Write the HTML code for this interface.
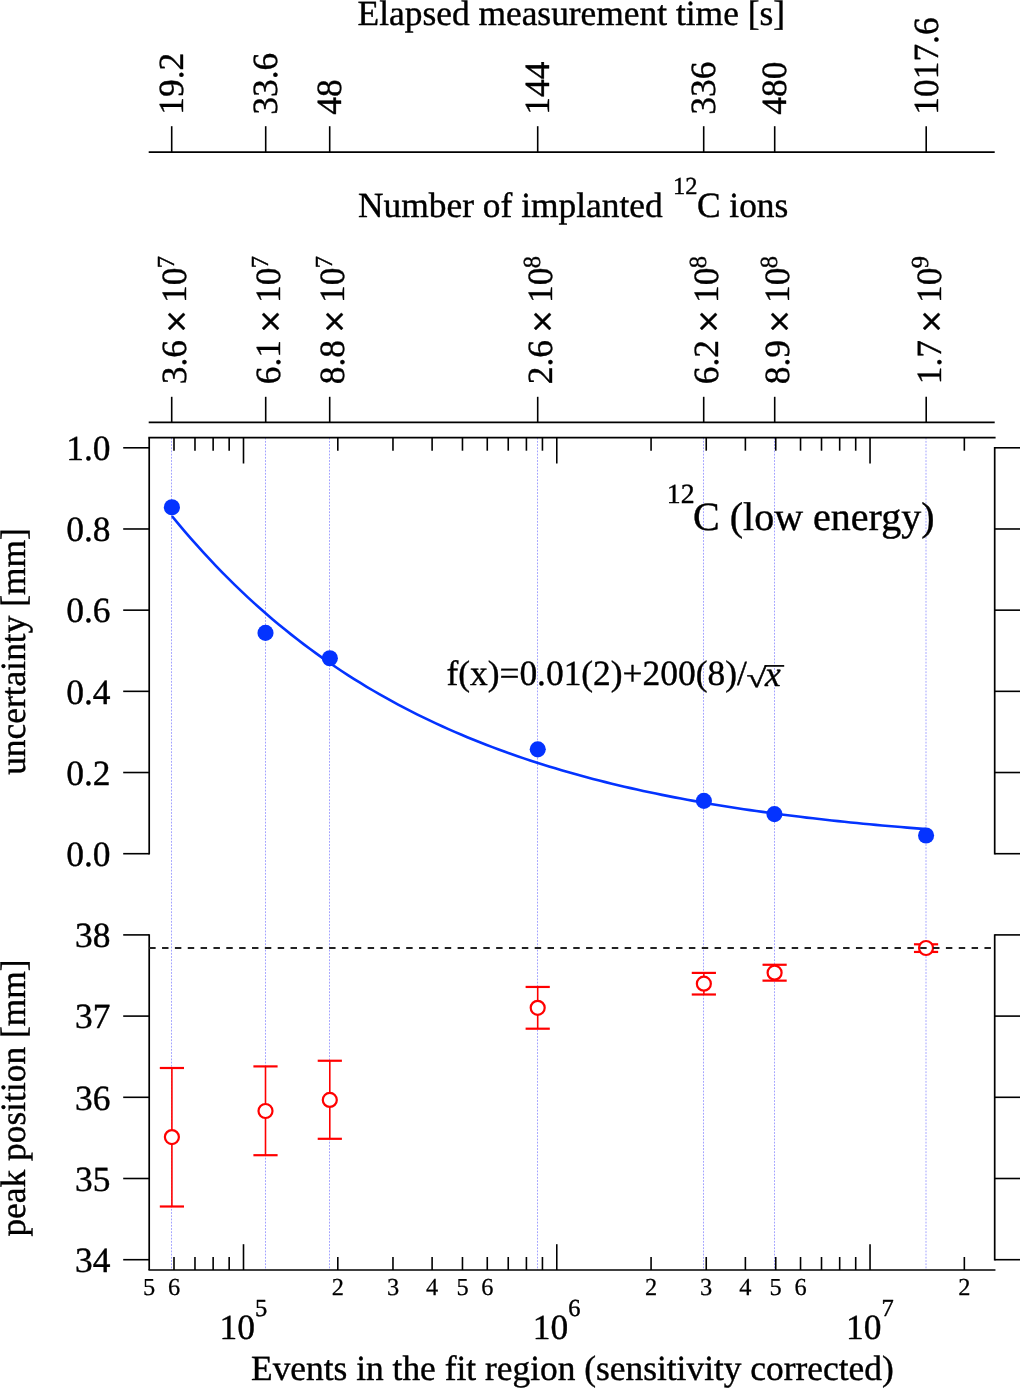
<!DOCTYPE html>
<html lang="en"><head><meta charset="utf-8"><title>Uncertainty and peak position versus events in the fit region</title><style>html,body{margin:0;padding:0;background:#fff}svg{display:block}</style></head><body>
<svg width="1020" height="1388" viewBox="0 0 1020 1388" font-family="'Liberation Serif', serif" font-size="35.4" fill="#000" text-rendering="geometricPrecision">
<style>text{stroke:#000;stroke-width:0.4px;stroke-linejoin:round}text.s{stroke-width:0.25px}</style>
<rect width="1020" height="1388" fill="#fff"/>
<text x="571.3" y="24.6" text-anchor="middle">Elapsed measurement time [s]</text>
<text x="573.2" y="217" text-anchor="middle">Number of implanted <tspan font-size="24.5" dy="-23.5" dx="1.4">12</tspan><tspan dy="23.5" dx="-0.6">C ions</tspan></text>
<text x="572.4" y="1380.3" text-anchor="middle">Events in the fit region (sensitivity corrected)</text>
<text transform="translate(25.3,651.5) rotate(-90)" text-anchor="middle">uncertainty [mm]</text>
<text transform="translate(25.2,1098) rotate(-90)" text-anchor="middle">peak position [mm]</text>
<line x1="148.70" y1="152.20" x2="994.70" y2="152.20" stroke="#000" stroke-width="1.7" />
<line x1="148.70" y1="422.30" x2="994.70" y2="422.30" stroke="#000" stroke-width="1.7" />
<line x1="171.70" y1="126.20" x2="171.70" y2="152.20" stroke="#000" stroke-width="1.6" />
<line x1="171.70" y1="396.80" x2="171.70" y2="422.30" stroke="#000" stroke-width="1.6" />
<text transform="translate(183.4,114.7) rotate(-90)">19.2</text>
<text transform="translate(186.3,384.3) rotate(-90)">3.6<tspan font-family="'DejaVu Sans', sans-serif" dx="6" font-size="30">×</tspan><tspan dx="6">10</tspan><tspan font-size="24.5" dy="-12.4" dx="-0.6">7</tspan></text>
<line x1="265.70" y1="126.20" x2="265.70" y2="152.20" stroke="#000" stroke-width="1.6" />
<line x1="265.70" y1="396.80" x2="265.70" y2="422.30" stroke="#000" stroke-width="1.6" />
<text transform="translate(277.4,114.7) rotate(-90)">33.6</text>
<text transform="translate(280.3,384.3) rotate(-90)">6.1<tspan font-family="'DejaVu Sans', sans-serif" dx="6" font-size="30">×</tspan><tspan dx="6">10</tspan><tspan font-size="24.5" dy="-12.4" dx="-0.6">7</tspan></text>
<line x1="329.70" y1="126.20" x2="329.70" y2="152.20" stroke="#000" stroke-width="1.6" />
<line x1="329.70" y1="396.80" x2="329.70" y2="422.30" stroke="#000" stroke-width="1.6" />
<text transform="translate(341.4,114.7) rotate(-90)">48</text>
<text transform="translate(344.3,384.3) rotate(-90)">8.8<tspan font-family="'DejaVu Sans', sans-serif" dx="6" font-size="30">×</tspan><tspan dx="6">10</tspan><tspan font-size="24.5" dy="-12.4" dx="-0.6">7</tspan></text>
<line x1="537.70" y1="126.20" x2="537.70" y2="152.20" stroke="#000" stroke-width="1.6" />
<line x1="537.70" y1="396.80" x2="537.70" y2="422.30" stroke="#000" stroke-width="1.6" />
<text transform="translate(549.4,114.7) rotate(-90)">144</text>
<text transform="translate(552.3,384.3) rotate(-90)">2.6<tspan font-family="'DejaVu Sans', sans-serif" dx="6" font-size="30">×</tspan><tspan dx="6">10</tspan><tspan font-size="24.5" dy="-12.4" dx="-0.6">8</tspan></text>
<line x1="703.70" y1="126.20" x2="703.70" y2="152.20" stroke="#000" stroke-width="1.6" />
<line x1="703.70" y1="396.80" x2="703.70" y2="422.30" stroke="#000" stroke-width="1.6" />
<text transform="translate(715.4,114.7) rotate(-90)">336</text>
<text transform="translate(718.3,384.3) rotate(-90)">6.2<tspan font-family="'DejaVu Sans', sans-serif" dx="6" font-size="30">×</tspan><tspan dx="6">10</tspan><tspan font-size="24.5" dy="-12.4" dx="-0.6">8</tspan></text>
<line x1="774.70" y1="126.20" x2="774.70" y2="152.20" stroke="#000" stroke-width="1.6" />
<line x1="774.70" y1="396.80" x2="774.70" y2="422.30" stroke="#000" stroke-width="1.6" />
<text transform="translate(786.4,114.7) rotate(-90)">480</text>
<text transform="translate(789.3,384.3) rotate(-90)">8.9<tspan font-family="'DejaVu Sans', sans-serif" dx="6" font-size="30">×</tspan><tspan dx="6">10</tspan><tspan font-size="24.5" dy="-12.4" dx="-0.6">8</tspan></text>
<line x1="926.20" y1="126.20" x2="926.20" y2="152.20" stroke="#000" stroke-width="1.6" />
<line x1="926.20" y1="396.80" x2="926.20" y2="422.30" stroke="#000" stroke-width="1.6" />
<text transform="translate(937.9,114.7) rotate(-90)">1017.6</text>
<text transform="translate(940.8,384.3) rotate(-90)">1.7<tspan font-family="'DejaVu Sans', sans-serif" dx="6" font-size="30">×</tspan><tspan dx="6">10</tspan><tspan font-size="24.5" dy="-12.4" dx="-0.6">9</tspan></text>
<line x1="171.50" y1="437.70" x2="171.50" y2="1270.00" stroke="#0000ff" stroke-width="1" stroke-dasharray="1.8 1.4" opacity="0.36"/>
<line x1="265.50" y1="437.70" x2="265.50" y2="1270.00" stroke="#0000ff" stroke-width="1" stroke-dasharray="1.8 1.4" opacity="0.36"/>
<line x1="329.50" y1="437.70" x2="329.50" y2="1270.00" stroke="#0000ff" stroke-width="1" stroke-dasharray="1.8 1.4" opacity="0.36"/>
<line x1="537.50" y1="437.70" x2="537.50" y2="1270.00" stroke="#0000ff" stroke-width="1" stroke-dasharray="1.8 1.4" opacity="0.36"/>
<line x1="703.50" y1="437.70" x2="703.50" y2="1270.00" stroke="#0000ff" stroke-width="1" stroke-dasharray="1.8 1.4" opacity="0.36"/>
<line x1="774.50" y1="437.70" x2="774.50" y2="1270.00" stroke="#0000ff" stroke-width="1" stroke-dasharray="1.8 1.4" opacity="0.36"/>
<line x1="926.00" y1="437.70" x2="926.00" y2="1270.00" stroke="#0000ff" stroke-width="1" stroke-dasharray="1.8 1.4" opacity="0.36"/>
<line x1="148.30" y1="437.70" x2="995.60" y2="437.70" stroke="#000" stroke-width="1.7" />
<line x1="149.20" y1="437.70" x2="149.20" y2="854.40" stroke="#000" stroke-width="1.7" />
<line x1="994.70" y1="447.10" x2="994.70" y2="854.40" stroke="#000" stroke-width="1.7" />
<line x1="123.20" y1="853.70" x2="149.20" y2="853.70" stroke="#000" stroke-width="1.6" />
<line x1="994.70" y1="853.70" x2="1020.00" y2="853.70" stroke="#000" stroke-width="1.6" />
<text x="110.5" y="865.9" text-anchor="end">0.0</text>
<line x1="123.20" y1="772.52" x2="149.20" y2="772.52" stroke="#000" stroke-width="1.6" />
<line x1="994.70" y1="772.52" x2="1020.00" y2="772.52" stroke="#000" stroke-width="1.6" />
<text x="110.5" y="784.7" text-anchor="end">0.2</text>
<line x1="123.20" y1="691.34" x2="149.20" y2="691.34" stroke="#000" stroke-width="1.6" />
<line x1="994.70" y1="691.34" x2="1020.00" y2="691.34" stroke="#000" stroke-width="1.6" />
<text x="110.5" y="703.5" text-anchor="end">0.4</text>
<line x1="123.20" y1="610.16" x2="149.20" y2="610.16" stroke="#000" stroke-width="1.6" />
<line x1="994.70" y1="610.16" x2="1020.00" y2="610.16" stroke="#000" stroke-width="1.6" />
<text x="110.5" y="622.4" text-anchor="end">0.6</text>
<line x1="123.20" y1="528.98" x2="149.20" y2="528.98" stroke="#000" stroke-width="1.6" />
<line x1="994.70" y1="528.98" x2="1020.00" y2="528.98" stroke="#000" stroke-width="1.6" />
<text x="110.5" y="541.2" text-anchor="end">0.8</text>
<line x1="123.20" y1="447.80" x2="149.20" y2="447.80" stroke="#000" stroke-width="1.6" />
<line x1="994.70" y1="447.80" x2="1020.00" y2="447.80" stroke="#000" stroke-width="1.6" />
<text x="110.5" y="460.0" text-anchor="end">1.0</text>
<line x1="174.00" y1="437.70" x2="174.00" y2="450.70" stroke="#000" stroke-width="1.6" />
<line x1="194.98" y1="437.70" x2="194.98" y2="450.70" stroke="#000" stroke-width="1.6" />
<line x1="213.14" y1="437.70" x2="213.14" y2="450.70" stroke="#000" stroke-width="1.6" />
<line x1="229.17" y1="437.70" x2="229.17" y2="450.70" stroke="#000" stroke-width="1.6" />
<line x1="243.50" y1="437.70" x2="243.50" y2="463.50" stroke="#000" stroke-width="1.6" />
<line x1="337.81" y1="437.70" x2="337.81" y2="450.70" stroke="#000" stroke-width="1.6" />
<line x1="392.97" y1="437.70" x2="392.97" y2="450.70" stroke="#000" stroke-width="1.6" />
<line x1="432.11" y1="437.70" x2="432.11" y2="450.70" stroke="#000" stroke-width="1.6" />
<line x1="462.47" y1="437.70" x2="462.47" y2="450.70" stroke="#000" stroke-width="1.6" />
<line x1="487.27" y1="437.70" x2="487.27" y2="450.70" stroke="#000" stroke-width="1.6" />
<line x1="508.24" y1="437.70" x2="508.24" y2="450.70" stroke="#000" stroke-width="1.6" />
<line x1="526.41" y1="437.70" x2="526.41" y2="450.70" stroke="#000" stroke-width="1.6" />
<line x1="542.44" y1="437.70" x2="542.44" y2="450.70" stroke="#000" stroke-width="1.6" />
<line x1="556.77" y1="437.70" x2="556.77" y2="463.50" stroke="#000" stroke-width="1.6" />
<line x1="651.07" y1="437.70" x2="651.07" y2="450.70" stroke="#000" stroke-width="1.6" />
<line x1="706.24" y1="437.70" x2="706.24" y2="450.70" stroke="#000" stroke-width="1.6" />
<line x1="745.38" y1="437.70" x2="745.38" y2="450.70" stroke="#000" stroke-width="1.6" />
<line x1="775.74" y1="437.70" x2="775.74" y2="450.70" stroke="#000" stroke-width="1.6" />
<line x1="800.54" y1="437.70" x2="800.54" y2="450.70" stroke="#000" stroke-width="1.6" />
<line x1="821.51" y1="437.70" x2="821.51" y2="450.70" stroke="#000" stroke-width="1.6" />
<line x1="839.68" y1="437.70" x2="839.68" y2="450.70" stroke="#000" stroke-width="1.6" />
<line x1="855.70" y1="437.70" x2="855.70" y2="450.70" stroke="#000" stroke-width="1.6" />
<line x1="870.04" y1="437.70" x2="870.04" y2="463.50" stroke="#000" stroke-width="1.6" />
<line x1="964.34" y1="437.70" x2="964.34" y2="450.70" stroke="#000" stroke-width="1.6" />
<polyline fill="none" stroke="#0433ff" stroke-width="2.6" stroke-linejoin="round" points="171.90,516.00 178.18,523.63 184.47,531.08 190.75,538.36 197.04,545.48 203.32,552.43 209.61,559.22 215.89,565.86 222.18,572.35 228.46,578.69 234.75,584.88 241.03,590.93 247.32,596.85 253.60,602.63 259.89,608.28 266.17,613.80 272.45,619.19 278.74,624.46 285.02,629.61 291.31,634.64 297.59,639.56 303.88,644.36 310.16,649.06 316.45,653.64 322.73,658.13 329.02,662.51 335.30,666.79 341.59,670.97 347.87,675.06 354.16,679.05 360.44,682.96 366.72,686.77 373.01,690.50 379.29,694.14 385.58,697.70 391.86,701.17 398.15,704.57 404.43,707.89 410.72,711.14 417.00,714.31 423.29,717.40 429.57,720.43 435.86,723.39 442.14,726.28 448.43,729.10 454.71,731.86 460.99,734.56 467.28,737.20 473.56,739.77 479.85,742.29 486.13,744.75 492.42,747.15 498.70,749.50 504.99,751.79 511.27,754.04 517.56,756.23 523.84,758.37 530.13,760.46 536.41,762.50 542.70,764.50 548.98,766.45 555.26,768.36 561.55,770.22 567.83,772.05 574.12,773.83 580.40,775.56 586.69,777.26 592.97,778.92 599.26,780.55 605.54,782.13 611.83,783.68 618.11,785.20 624.40,786.67 630.68,788.12 636.97,789.53 643.25,790.91 649.53,792.26 655.82,793.58 662.10,794.87 668.39,796.13 674.67,797.36 680.96,798.56 687.24,799.73 693.53,800.88 699.81,802.00 706.10,803.10 712.38,804.17 718.67,805.21 724.95,806.24 731.24,807.24 737.52,808.21 743.80,809.17 750.09,810.10 756.37,811.01 762.66,811.90 768.94,812.77 775.23,813.62 781.51,814.45 787.80,815.26 794.08,816.05 800.37,816.83 806.65,817.59 812.94,818.33 819.22,819.05 825.51,819.75 831.79,820.45 838.07,821.12 844.36,821.78 850.64,822.42 856.93,823.05 863.21,823.67 869.50,824.27 875.78,824.86 882.07,825.43 888.35,825.99 894.64,826.54 900.92,827.07 907.21,827.60 913.49,828.11 919.78,828.61 926.06,829.10"/>
<circle cx="171.9" cy="507.3" r="8.05" fill="#0433ff"/>
<circle cx="265.5" cy="632.9" r="8.05" fill="#0433ff"/>
<circle cx="329.85" cy="658.25" r="8.05" fill="#0433ff"/>
<circle cx="537.75" cy="749.35" r="8.05" fill="#0433ff"/>
<circle cx="703.9" cy="800.9" r="8.05" fill="#0433ff"/>
<circle cx="774.45" cy="814.1" r="8.05" fill="#0433ff"/>
<circle cx="926.06" cy="835.55" r="8.05" fill="#0433ff"/>
<text x="666.85" y="530.1" font-size="40.0"><tspan font-size="27.8" dy="-27.0">12</tspan><tspan dy="27.0" dx="-1.6">C (low energy)</tspan></text>
<text x="446.4" y="685.2">f(x)=0.01(2)+200(8)/</text>
<text transform="translate(746.4,687.2) scale(1.35,1)" font-size="27">√</text>
<text x="765.0" y="685.5" font-style="italic">x</text>
<line x1="764.60" y1="665.90" x2="784.20" y2="665.90" stroke="#000" stroke-width="1.7" />
<line x1="149.20" y1="934.20" x2="149.20" y2="1270.00" stroke="#000" stroke-width="1.7" />
<line x1="994.70" y1="934.20" x2="994.70" y2="1260.40" stroke="#000" stroke-width="1.7" />
<line x1="148.45" y1="1270.00" x2="995.45" y2="1270.00" stroke="#000" stroke-width="1.7" />
<line x1="123.20" y1="1259.70" x2="149.20" y2="1259.70" stroke="#000" stroke-width="1.6" />
<line x1="994.70" y1="1259.70" x2="1020.00" y2="1259.70" stroke="#000" stroke-width="1.6" />
<text x="110.5" y="1271.9" text-anchor="end">34</text>
<line x1="123.20" y1="1178.50" x2="149.20" y2="1178.50" stroke="#000" stroke-width="1.6" />
<line x1="994.70" y1="1178.50" x2="1020.00" y2="1178.50" stroke="#000" stroke-width="1.6" />
<text x="110.5" y="1190.7" text-anchor="end">35</text>
<line x1="123.20" y1="1097.30" x2="149.20" y2="1097.30" stroke="#000" stroke-width="1.6" />
<line x1="994.70" y1="1097.30" x2="1020.00" y2="1097.30" stroke="#000" stroke-width="1.6" />
<text x="110.5" y="1109.5" text-anchor="end">36</text>
<line x1="123.20" y1="1016.10" x2="149.20" y2="1016.10" stroke="#000" stroke-width="1.6" />
<line x1="994.70" y1="1016.10" x2="1020.00" y2="1016.10" stroke="#000" stroke-width="1.6" />
<text x="110.5" y="1028.3" text-anchor="end">37</text>
<line x1="123.20" y1="934.90" x2="149.20" y2="934.90" stroke="#000" stroke-width="1.6" />
<line x1="994.70" y1="934.90" x2="1020.00" y2="934.90" stroke="#000" stroke-width="1.6" />
<text x="110.5" y="947.1" text-anchor="end">38</text>
<line x1="174.00" y1="1270.00" x2="174.00" y2="1257.00" stroke="#000" stroke-width="1.6" />
<line x1="194.98" y1="1270.00" x2="194.98" y2="1257.00" stroke="#000" stroke-width="1.6" />
<line x1="213.14" y1="1270.00" x2="213.14" y2="1257.00" stroke="#000" stroke-width="1.6" />
<line x1="229.17" y1="1270.00" x2="229.17" y2="1257.00" stroke="#000" stroke-width="1.6" />
<line x1="243.50" y1="1270.00" x2="243.50" y2="1244.20" stroke="#000" stroke-width="1.6" />
<line x1="337.81" y1="1270.00" x2="337.81" y2="1257.00" stroke="#000" stroke-width="1.6" />
<line x1="392.97" y1="1270.00" x2="392.97" y2="1257.00" stroke="#000" stroke-width="1.6" />
<line x1="432.11" y1="1270.00" x2="432.11" y2="1257.00" stroke="#000" stroke-width="1.6" />
<line x1="462.47" y1="1270.00" x2="462.47" y2="1257.00" stroke="#000" stroke-width="1.6" />
<line x1="487.27" y1="1270.00" x2="487.27" y2="1257.00" stroke="#000" stroke-width="1.6" />
<line x1="508.24" y1="1270.00" x2="508.24" y2="1257.00" stroke="#000" stroke-width="1.6" />
<line x1="526.41" y1="1270.00" x2="526.41" y2="1257.00" stroke="#000" stroke-width="1.6" />
<line x1="542.44" y1="1270.00" x2="542.44" y2="1257.00" stroke="#000" stroke-width="1.6" />
<line x1="556.77" y1="1270.00" x2="556.77" y2="1244.20" stroke="#000" stroke-width="1.6" />
<line x1="651.07" y1="1270.00" x2="651.07" y2="1257.00" stroke="#000" stroke-width="1.6" />
<line x1="706.24" y1="1270.00" x2="706.24" y2="1257.00" stroke="#000" stroke-width="1.6" />
<line x1="745.38" y1="1270.00" x2="745.38" y2="1257.00" stroke="#000" stroke-width="1.6" />
<line x1="775.74" y1="1270.00" x2="775.74" y2="1257.00" stroke="#000" stroke-width="1.6" />
<line x1="800.54" y1="1270.00" x2="800.54" y2="1257.00" stroke="#000" stroke-width="1.6" />
<line x1="821.51" y1="1270.00" x2="821.51" y2="1257.00" stroke="#000" stroke-width="1.6" />
<line x1="839.68" y1="1270.00" x2="839.68" y2="1257.00" stroke="#000" stroke-width="1.6" />
<line x1="855.70" y1="1270.00" x2="855.70" y2="1257.00" stroke="#000" stroke-width="1.6" />
<line x1="870.04" y1="1270.00" x2="870.04" y2="1244.20" stroke="#000" stroke-width="1.6" />
<line x1="964.34" y1="1270.00" x2="964.34" y2="1257.00" stroke="#000" stroke-width="1.6" />
<text x="149.2" y="1295.1" font-size="24.4" class="s" text-anchor="middle">5</text>
<text x="174.0" y="1295.1" font-size="24.4" class="s" text-anchor="middle">6</text>
<text x="337.8" y="1295.1" font-size="24.4" class="s" text-anchor="middle">2</text>
<text x="393.0" y="1295.1" font-size="24.4" class="s" text-anchor="middle">3</text>
<text x="432.1" y="1295.1" font-size="24.4" class="s" text-anchor="middle">4</text>
<text x="462.5" y="1295.1" font-size="24.4" class="s" text-anchor="middle">5</text>
<text x="487.3" y="1295.1" font-size="24.4" class="s" text-anchor="middle">6</text>
<text x="651.1" y="1295.1" font-size="24.4" class="s" text-anchor="middle">2</text>
<text x="706.2" y="1295.1" font-size="24.4" class="s" text-anchor="middle">3</text>
<text x="745.4" y="1295.1" font-size="24.4" class="s" text-anchor="middle">4</text>
<text x="775.7" y="1295.1" font-size="24.4" class="s" text-anchor="middle">5</text>
<text x="800.5" y="1295.1" font-size="24.4" class="s" text-anchor="middle">6</text>
<text x="964.3" y="1295.1" font-size="24.4" class="s" text-anchor="middle">2</text>
<text x="219.5" y="1339.2">10<tspan font-size="24.5" dy="-23" dx="0">5</tspan></text>
<text x="532.8" y="1339.2">10<tspan font-size="24.5" dy="-23" dx="0">6</tspan></text>
<text x="846.0" y="1339.2">10<tspan font-size="24.5" dy="-23" dx="0">7</tspan></text>
<line x1="171.90" y1="1068.00" x2="171.90" y2="1206.50" stroke="#ff0000" stroke-width="1.6" />
<line x1="159.80" y1="1068.00" x2="184.00" y2="1068.00" stroke="#ff0000" stroke-width="2.2" />
<line x1="159.80" y1="1206.50" x2="184.00" y2="1206.50" stroke="#ff0000" stroke-width="2.2" />
<circle cx="171.9" cy="1137.1" r="7.0" fill="#fff" stroke="#ff0000" stroke-width="2.2"/>
<line x1="265.50" y1="1066.40" x2="265.50" y2="1155.20" stroke="#ff0000" stroke-width="1.6" />
<line x1="253.40" y1="1066.40" x2="277.60" y2="1066.40" stroke="#ff0000" stroke-width="2.2" />
<line x1="253.40" y1="1155.20" x2="277.60" y2="1155.20" stroke="#ff0000" stroke-width="2.2" />
<circle cx="265.5" cy="1111.0" r="7.0" fill="#fff" stroke="#ff0000" stroke-width="2.2"/>
<line x1="329.80" y1="1060.75" x2="329.80" y2="1138.80" stroke="#ff0000" stroke-width="1.6" />
<line x1="317.70" y1="1060.75" x2="341.90" y2="1060.75" stroke="#ff0000" stroke-width="2.2" />
<line x1="317.70" y1="1138.80" x2="341.90" y2="1138.80" stroke="#ff0000" stroke-width="2.2" />
<circle cx="329.8" cy="1099.9" r="7.0" fill="#fff" stroke="#ff0000" stroke-width="2.2"/>
<line x1="537.70" y1="986.95" x2="537.70" y2="1028.70" stroke="#ff0000" stroke-width="1.6" />
<line x1="525.60" y1="986.95" x2="549.80" y2="986.95" stroke="#ff0000" stroke-width="2.2" />
<line x1="525.60" y1="1028.70" x2="549.80" y2="1028.70" stroke="#ff0000" stroke-width="2.2" />
<circle cx="537.7" cy="1007.85" r="7.0" fill="#fff" stroke="#ff0000" stroke-width="2.2"/>
<line x1="703.85" y1="972.90" x2="703.85" y2="994.50" stroke="#ff0000" stroke-width="1.6" />
<line x1="691.75" y1="972.90" x2="715.95" y2="972.90" stroke="#ff0000" stroke-width="2.2" />
<line x1="691.75" y1="994.50" x2="715.95" y2="994.50" stroke="#ff0000" stroke-width="2.2" />
<circle cx="703.85" cy="983.7" r="7.0" fill="#fff" stroke="#ff0000" stroke-width="2.2"/>
<line x1="774.60" y1="964.76" x2="774.60" y2="980.65" stroke="#ff0000" stroke-width="1.6" />
<line x1="762.50" y1="964.76" x2="786.70" y2="964.76" stroke="#ff0000" stroke-width="2.2" />
<line x1="762.50" y1="980.65" x2="786.70" y2="980.65" stroke="#ff0000" stroke-width="2.2" />
<circle cx="774.6" cy="972.7" r="7.0" fill="#fff" stroke="#ff0000" stroke-width="2.2"/>
<line x1="926.05" y1="944.30" x2="926.05" y2="951.95" stroke="#ff0000" stroke-width="1.6" />
<line x1="913.95" y1="944.30" x2="938.15" y2="944.30" stroke="#ff0000" stroke-width="2.2" />
<line x1="913.95" y1="951.95" x2="938.15" y2="951.95" stroke="#ff0000" stroke-width="2.2" />
<circle cx="926.05" cy="948.0" r="7.0" fill="#fff" stroke="#ff0000" stroke-width="2.2"/>
<line x1="149.20" y1="948.00" x2="994.70" y2="948.00" stroke="#222" stroke-width="2.0" stroke-dasharray="6.45 6.4"/>
</svg>
</body></html>
